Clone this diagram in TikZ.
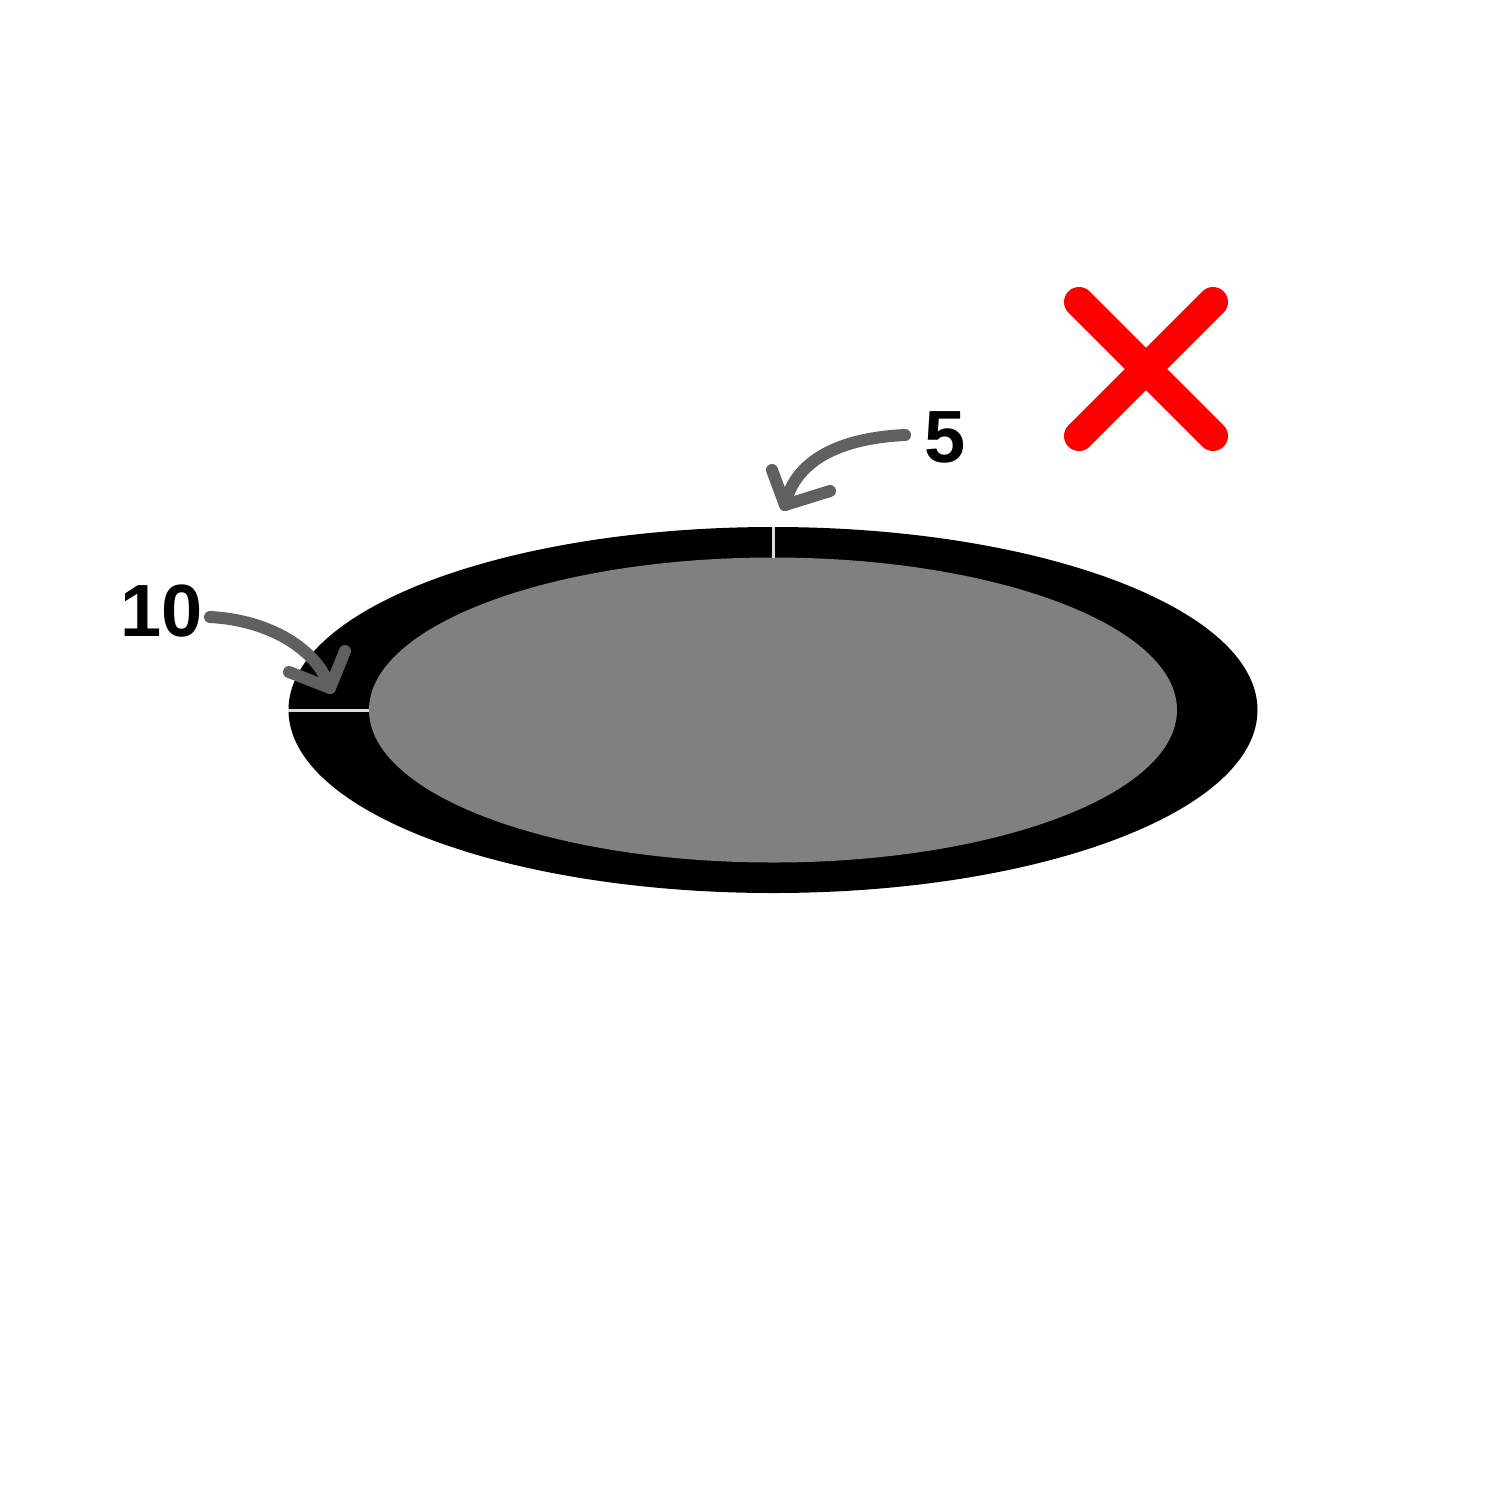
\documentclass[tikz,border=0pt]{standalone}
\usepackage{fontspec}
\setmainfont{Liberation Sans}
\definecolor{arrgray}{RGB}{96,96,96}
\definecolor{tickgray}{RGB}{220,220,220}
\definecolor{midgray}{RGB}{128,128,128}
\definecolor{xred}{RGB}{255,0,0}
\begin{document}
\begin{tikzpicture}[x=1pt,y=-1pt,
  arr/.style={draw=arrgray,line width=12pt,line cap=round,line join=round},
  tick/.style={draw=tickgray,line width=3pt},
  lbl/.style={font=\fontsize{74}{80}\selectfont\bfseries,inner sep=0pt},
  cross/.style={draw=xred,line width=30pt,line cap=round}]
\useasboundingbox[fill=white] (0,0) rectangle (1500,1500);
% ellipses
\fill[black] (773,710) ellipse [x radius=484.5, y radius=183];
\fill[midgray] (773,710) ellipse [x radius=404, y radius=152.5];
% ticks
\coordinate (t1a) at (773,527); \coordinate (t1b) at (773,558);
\coordinate (t2a) at (288,710); \coordinate (t2b) at (369,710);
\draw[tick] (t1a) -- (t1b);
\draw[tick] (t2a) -- (t2b);
% labels
\node[lbl] (five) at (945,437) {5};
\node[lbl] (ten) at (162,611) {10};
% arrow 5
\coordinate (s5) at (905,435);
\coordinate (e5) at (785,505);
\draw[arr] (s5) .. controls (840,438) and (795,460) .. (e5);
\draw[arr] (772,470) -- (e5) -- (830,491);
% arrow 10
\coordinate (s10) at (210,617);
\coordinate (e10) at (330,688);
\draw[arr] (s10) .. controls (270,620) and (318,650) .. (e10);
\draw[arr] (345,651) -- (e10) -- (289,672);
% red X
\coordinate (xa) at (1079,302); \coordinate (xb) at (1213,436);
\coordinate (xc) at (1213,302); \coordinate (xd) at (1079,436);
\draw[cross] (xa) -- (xb);
\draw[cross] (xc) -- (xd);
\end{tikzpicture}
\end{document}
